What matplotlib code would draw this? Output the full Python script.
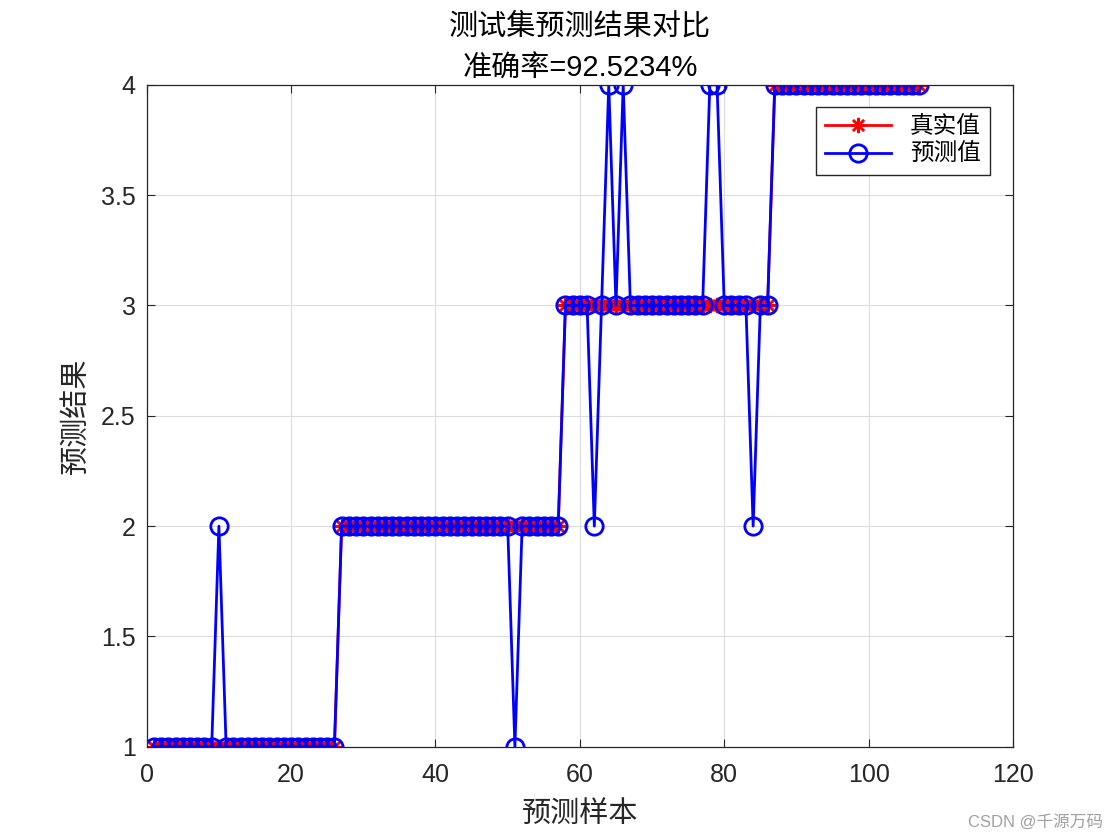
import matplotlib
matplotlib.use('Agg')
import matplotlib.pyplot as plt
import numpy as np

plt.rcParams['font.family'] = ['Liberation Sans', 'Noto Sans CJK SC', 'DejaVu Sans']
plt.rcParams['axes.unicode_minus'] = False

# true labels of the 107 test samples
trueLabels = [1, 1, 1, 1, 1, 1, 1, 1, 1, 1, 1, 1, 1, 1, 1, 1, 1, 1, 1, 1,
              1, 1, 1, 1, 1, 1,
              2, 2, 2, 2, 2, 2, 2, 2, 2, 2, 2, 2, 2, 2, 2, 2, 2, 2, 2, 2,
              2, 2, 2, 2, 2, 2, 2, 2, 2, 2, 2,
              3, 3, 3, 3, 3, 3, 3, 3, 3, 3, 3, 3, 3, 3, 3, 3, 3, 3, 3, 3,
              3, 3, 3, 3, 3, 3, 3, 3, 3,
              4, 4, 4, 4, 4, 4, 4, 4, 4, 4, 4, 4, 4, 4, 4, 4, 4, 4, 4, 4, 4]

# predicted labels
predLabels = [1, 1, 1, 1, 1, 1, 1, 1, 1, 2, 1, 1, 1, 1, 1, 1, 1, 1, 1, 1,
              1, 1, 1, 1, 1, 1,
              2, 2, 2, 2, 2, 2, 2, 2, 2, 2, 2, 2, 2, 2, 2, 2, 2, 2, 2, 2,
              2, 2, 2, 2, 1, 2, 2, 2, 2, 2, 2,
              3, 3, 3, 3, 2, 3, 4, 3, 4, 3, 3, 3, 3, 3, 3, 3, 3, 3, 3, 3,
              4, 4, 3, 3, 3, 3, 2, 3, 3,
              4, 4, 4, 4, 4, 4, 4, 4, 4, 4, 4, 4, 4, 4, 4, 4, 4, 4, 4, 4, 4]

accuracy = 92.5234
samples = np.arange(1, len(trueLabels) + 1)

fig = plt.figure(figsize=(11.2, 8.4), dpi=100)
ax = fig.add_axes([0.131, 0.111, 0.7735, 0.788])

# matlab-like asterisk marker
ax.plot(samples, trueLabels, '-', marker=(8, 2, 0), color='red', linewidth=2.0,
        markersize=11, markeredgewidth=1.8, label='真实值')
ax.plot(samples, predLabels, '-o', color='blue', linewidth=2.0,
        markersize=12.5, markeredgewidth=2.0, markerfacecolor='none', label='预测值')

ax.set_xlim(0, 120)
ax.set_ylim(1, 4)
ax.set_xticks(np.arange(0, 121, 20))
ax.set_yticks([1, 1.5, 2, 2.5, 3, 3.5, 4])
ax.set_yticklabels(['1', '1.5', '2', '2.5', '3', '3.5', '4'])
ax.tick_params(direction='in', labelsize=18, colors='#262626', length=6,
               top=True, right=True, pad=8)
ax.tick_params(axis='x', pad=12)
ax.grid(True, color='#dcdcdc', linewidth=0.8)
ax.set_axisbelow(True)
for s in ax.spines.values():
    s.set_color('#262626')
    s.set_linewidth(0.9)

ax.set_xlabel('预测样本', fontsize=21, color='#262626', labelpad=9)
ax.set_ylabel('预测结果', fontsize=21, color='#262626', labelpad=8)
ax.set_title('测试集预测结果对比\n准确率=%.4f%%' % accuracy, fontsize=21,
             color='black', linespacing=1.65, pad=6)

leg = ax.legend(loc='upper right', bbox_to_anchor=(0.9875, 0.985), fontsize=17,
                fancybox=False, framealpha=1, edgecolor='#262626',
                handlelength=2.8, borderpad=0.4, labelspacing=0.25)
leg.get_frame().set_linewidth(1.0)

fig.text(0.985, 0.012, 'CSDN @千源万码', ha='right', va='bottom',
         fontsize=12, color='#a0a0a0')

fig.savefig('out.png', dpi=100)
